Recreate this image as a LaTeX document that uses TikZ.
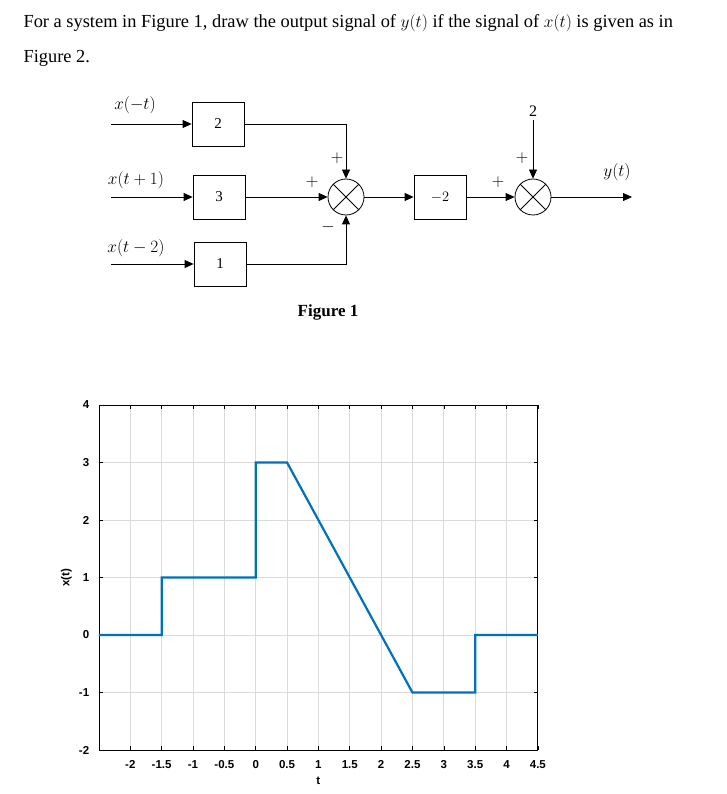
\documentclass[tikz,border=0pt]{standalone}
\usepackage{fontspec}
\setmainfont{Liberation Serif}
\setsansfont{Liberation Sans}
\usetikzlibrary{arrows.meta}
\begin{document}
\begin{tikzpicture}[x=1pt,y=-1pt,
 blk/.style={draw,line width=0.8pt,minimum width=52pt,minimum height=44pt,inner sep=0,font=\fontsize{15}{17}\selectfont},
 sumc/.style={draw,circle,line width=0.8pt,minimum size=36pt,inner sep=0},
 sig/.style={line width=0.8pt,-{Triangle[length=9pt,width=8pt]}},
 wire/.style={line width=0.8pt},
 lab/.style={font=\fontsize{16}{18}\selectfont},
 tick/.style={font=\sffamily\bfseries\fontsize{11.5}{13}\selectfont}]
\useasboundingbox (0,0) rectangle (727,794);
\node[anchor=base west,font=\fontsize{18.4}{21}\selectfont] (h1) at (20,28) {For a system in Figure 1, draw the output signal of $y(t)$ if the signal of $x(t)$ is given as in};
\node[anchor=base west,font=\fontsize{18.4}{21}\selectfont] (h2) at (20,63) {Figure 2.};
% blocks
\node[blk] (b2) at (218,124) {2};
\node[blk] (b3) at (219,197) {3};
\node[blk] (b1) at (220,264) {1};
\node[sumc] (s1) at (346,197) {};
\draw[wire] (s1.north west)--(s1.south east) (s1.north east)--(s1.south west);
\node[blk] (bm) at (440,197) {$-2$};
\node[sumc] (s2) at (533,197) {};
\draw[wire] (s2.north west)--(s2.south east) (s2.north east)--(s2.south west);
\coordinate (i2) at (111,124);
\coordinate (i3) at (111,197);
\coordinate (i1) at (111,264);
\coordinate (out) at (632,197);
\node[lab] (two) at (533,111) {2};
\draw[sig] (i2)--(b2.west);
\draw[sig] (i3)--(b3.west);
\draw[sig] (i1)--(b1.west);
\draw[sig] (b2.east)-|(s1.north);
\draw[sig] (b3.east)--(s1.west);
\draw[sig] (b1.east)-|(s1.south);
\draw[sig] (s1.east)--(bm.west);
\draw[sig] (bm.east)--(s2.west);
\draw[sig] (two.south)--(s2.north);
\draw[sig] (s2.east)--(out);
\node[lab] (l1) at (135,105) {$x(-t)$};
\node[lab] (l2) at (136,180) {$x(t+1)$};
\node[lab] (l3) at (136,248) {$x(t-2)$};
\node[lab] (ly) at (617,172) {$y(t)$};
\node[lab] (p1) at (337,158) {$+$};
\node[lab] (p2) at (312,182) {$+$};
\node[lab] (m1) at (328,227) {$-$};
\node[lab] (p3) at (522,158) {$+$};
\node[lab] (p4) at (498,182) {$+$};
\node[font=\bfseries\fontsize{17}{20}\selectfont] (cap) at (328,312) {Figure 1};
% plot
\begin{scope}[shift={(255.7,635)},x=62.7pt,y=57.5pt]
\foreach \t in {-2,-1.5,...,4} \draw[black!14,line width=0.7pt] (\t,-2)--(\t,4);
\foreach \v in {-1,0,...,3} \draw[black!14,line width=0.7pt] (-2.5,\v)--(4.5,\v);
\foreach \t in {-2,-1.5,...,4.5} {\draw[line width=0.6pt] (\t,-2)--++(0,4pt) (\t,4)--++(0,-4pt);
 \node[tick] at (\t,-2.25) {\t};}
\foreach \v in {-2,-1,...,4} {\draw[line width=0.6pt] (-2.5,\v)--++(4pt,0) (4.5,\v)--++(-4pt,0);
 \node[tick,anchor=east] at (-2.6,\v) {\v};}
\draw[line width=0.8pt] (-2.5,-2) rectangle (4.5,4);
\draw[color={rgb,255:red,0;green,114;blue,189},line width=2.2pt,line join=miter]
 (-2.5,0)--(-1.5,0)--(-1.5,1)--(0,1)--(0,3)--(0.5,3)--(2.5,-1)--(3.5,-1)--(3.5,0)--(4.5,0);
\node[tick] at (1,-2.53) {t};
\node[tick,rotate=90] at (-3.02,1) {x(t)};
\end{scope}
\end{tikzpicture}
\end{document}
